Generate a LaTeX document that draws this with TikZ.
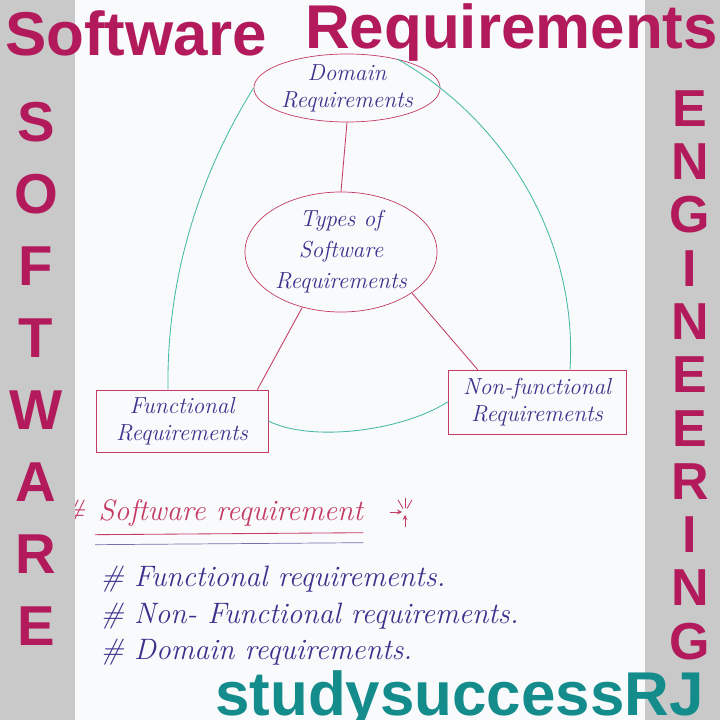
\documentclass[tikz,border=0pt]{standalone}
\usepackage{fontspec}
\usetikzlibrary{shapes.geometric, calc, positioning}
\newfontfamily\bannerfont{Liberation Sans}
\definecolor{banner}{RGB}{178,26,92}
\definecolor{brand}{RGB}{20,140,140}
\definecolor{ink}{RGB}{58,50,140}
\definecolor{rose}{RGB}{196,60,100}
\definecolor{mint}{RGB}{70,185,165}
\definecolor{sidebar}{RGB}{201,201,201}
\definecolor{paper}{RGB}{249,250,252}

\begin{document}
\begin{tikzpicture}[x=0.025cm, y=-0.025cm]
    \tikzstyle{hand}=[font=\fontsize{16.5}{19}\selectfont\itshape, text=ink, align=center]
    \tikzstyle{bubble}=[ellipse, draw=rose, line width=0.5pt, inner sep=0pt]
    \tikzstyle{card}=[rectangle, draw=rose, line width=0.5pt, inner sep=0pt]
    \tikzstyle{rose line}=[draw=rose, line width=0.6pt]
    \tikzstyle{mint line}=[draw=mint, line width=0.6pt]
    \tikzstyle{note}=[font=\fontsize{21}{24}\selectfont\itshape, text=ink, anchor=west, inner sep=0pt]
    \tikzstyle{banner}=[font=\bannerfont\bfseries\fontsize{44}{44}\selectfont, text=banner, inner sep=0pt]
    \tikzstyle{side letter}=[font=\bannerfont\bfseries\fontsize{40}{40}\selectfont, text=banner, inner sep=0pt]
    \tikzstyle{side letter right}=[side letter, font=\bannerfont\bfseries\fontsize{37}{37}\selectfont]

    % the sheet of paper
    \useasboundingbox (0,0) rectangle (720,720);
    \fill[paper] (0,0) rectangle (720,720);

    % Draw the diagram nodes
    \node[bubble, hand, minimum width=4.25cm, minimum height=1.7cm] (domain) at (347,88) {Domain\\ Requirements};
    \node[bubble, hand, minimum width=4.8cm, minimum height=3cm] (types) at (341,252) {Types of\\[3pt] Software\\[3pt] Requirements};
    \node[card, hand, minimum width=4.3cm, minimum height=1.55cm] (func) at (182,421) {Functional\\ Requirements};
    \node[card, hand, minimum width=4.45cm, minimum height=1.6cm] (nfunc) at (537,402) {Non-functional\\ Requirements};

    % Connect the types with each kind
    \draw[rose line] (domain.south) -- (types.north);
    \draw[rose line] (types.235) -- ($(func.north east)+(-11,0)$);
    \draw[rose line] (types.-30) -- ($(nfunc.north west)+(30,0)$);

    % the outer ring
    \draw[mint line] (domain.west) .. controls (218,145) and (166,250) .. ($(func.north)+(-14,0)$);
    \draw[mint line] (domain.30) .. controls (505,120) and (578,240) .. ($(nfunc.north)+(33,0)$);
    \draw[mint line] (func.east) .. controls (310,442) and (400,432) .. (nfunc.west);

    % Notes below the diagram
    \node[note, text=rose] (hash) at (61,513) {\#};
    \node[note, text=rose] (head) at (98,513) {Software requirement};
    \draw[rose line] ($(head.south west)+(-3,8)$) -- ($(head.south east)+(0,6)$);
    \draw[ink!70, line width=0.5pt] ($(head.south west)+(-3,18)$) -- ($(head.south east)+(0,16)$);
    \coordinate (spark) at (405,512);
    \foreach \ang in {60,90,120}
        \draw[rose line] ($(spark)+(\ang:-4)$) -- ($(spark)+(\ang:-14)$);
    \draw[rose line, ->, >=stealth] ($(spark)+(-15,0)$) -- ($(spark)+(-3,0)$);
    \draw[rose line, ->, >=stealth] ($(spark)+(0,15)$) -- ($(spark)+(0,3)$);

    \node[note] (item-1) at (100,579) {\# Functional requirements.};
    \node[note] (item-2) at (100,616) {\# Non- Functional requirements.};
    \node[note] (item-3) at (100,652) {\# Domain requirements.};

    % grey side bars
    \fill[sidebar] (0,0) rectangle (75,720);
    \fill[sidebar] (645,0) rectangle (720,720);

    % Titles
    \node[banner, anchor=base west] (title-a) at (5,56) {Software};
    \node[banner, anchor=base west] (title-b) at (305,49) {Requirements};

    \foreach \ch [count=\i] in {S,O,F,T,W,A,R,E}
        \node[side letter] (L-\i) at (36,50+72*\i) {\ch};
    \foreach \ch [count=\i] in {E,N,G,I,N,E,E,R,I,N,G}
        \node[side letter right] (R-\i) at (690,55+53.3*\i) {\ch};

    \node[banner, text=brand, anchor=base west] (brand) at (215,715) {studysuccessRJ};
\end{tikzpicture}
\end{document}
